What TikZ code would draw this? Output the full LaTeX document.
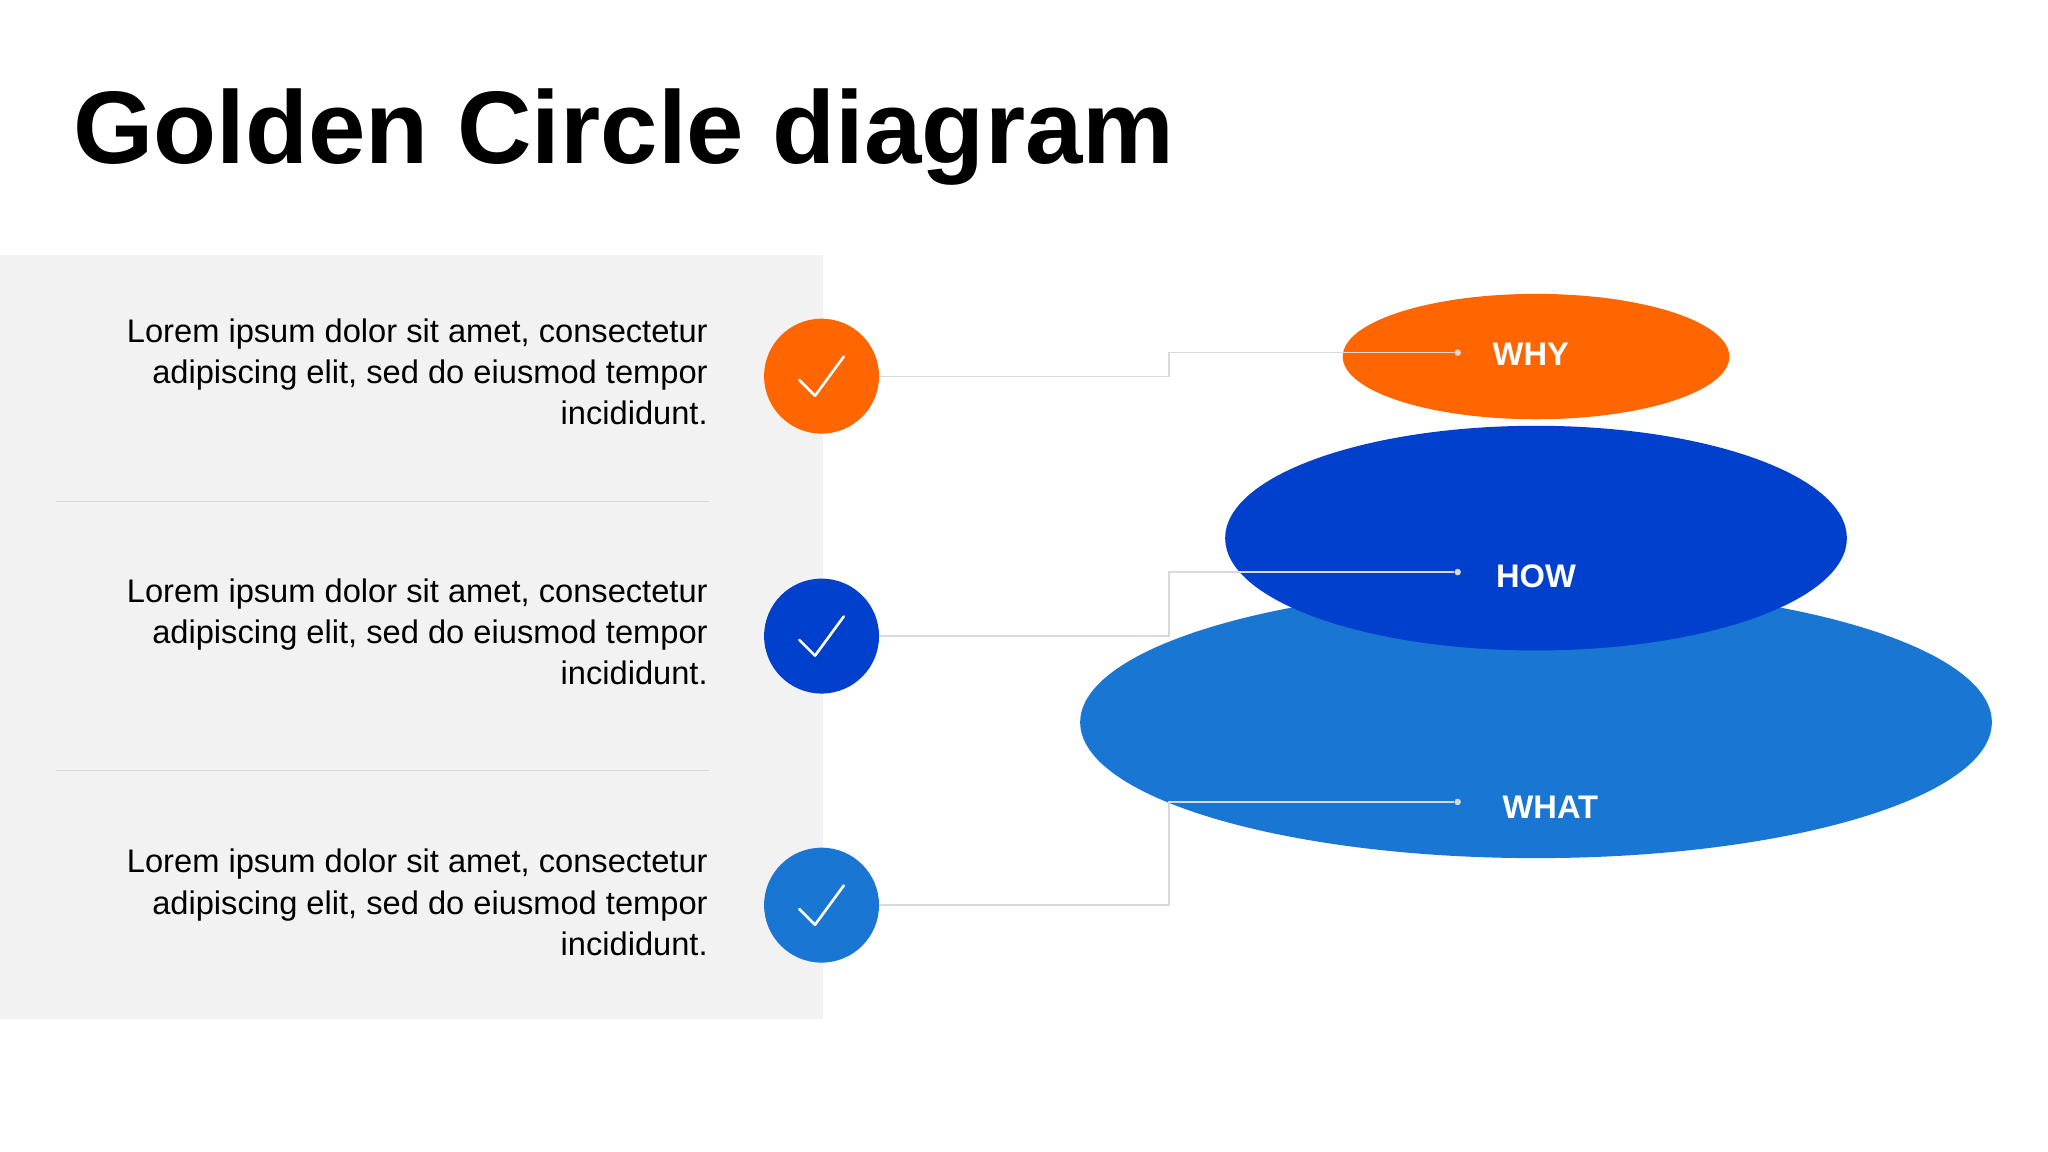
\documentclass[tikz,border=0pt]{standalone}
\usepackage{fontspec}
\setmainfont{Liberation Sans}
\definecolor{cOr}{HTML}{FF6600}
\definecolor{cBl}{HTML}{0040CC}
\definecolor{cLb}{HTML}{1976D2}
\definecolor{panel}{HTML}{F2F2F2}
\definecolor{ln}{HTML}{D9D9D9}
\begin{document}
\begin{tikzpicture}[x=1pt,y=-1pt,
  body/.style={anchor=north east,align=right,font=\fontsize{25}{31.5}\selectfont,inner sep=0pt},
  chk/.style={circle,minimum size=88pt,inner sep=0pt},
  conn/.style={draw=ln,line width=1pt},
  lbl/.style={text=white,font=\fontsize{25}{30}\selectfont\bfseries},
  dot/.style={circle,fill=ln,inner sep=0pt,minimum size=5pt}]
\useasboundingbox (0,0) rectangle (1568,882);
\fill[white] (0,0) rectangle (1568,882);
\node[anchor=base west,inner sep=0pt,font=\fontsize{79}{90}\selectfont\bfseries] (title) at (56,125) {Golden Circle diagram};
\fill[panel] (0,195) rectangle (630,780);
\draw[ln] (43,384) -- (543,384);
\draw[ln] (43,590) -- (543,590);
\node[body] (t1) at (542,244) {Lorem ipsum dolor sit amet, consectetur\\adipiscing elit, sed do eiusmod tempor\\incididunt.};
\node[body] (t2) at (542,443) {Lorem ipsum dolor sit amet, consectetur\\adipiscing elit, sed do eiusmod tempor\\incididunt.};
\node[body] (t3) at (542,650) {Lorem ipsum dolor sit amet, consectetur\\adipiscing elit, sed do eiusmod tempor\\incididunt.};
% ellipses
\fill[cLb] (1176,553) ellipse[x radius=349,y radius=104];
\fill[cBl] (1176,412) ellipse[x radius=238,y radius=86];
\fill[cOr] (1176,273) ellipse[x radius=148,y radius=48];
\node[chk,fill=cOr] (c1) at (629,288) {};
\node[chk,fill=cBl] (c2) at (629,487) {};
\node[chk,fill=cLb] (c3) at (629,693) {};
\foreach \c in {c1,c2,c3}{
  \draw[white,line width=2pt,line cap=round,line join=round]
    ([shift={(-17,3)}]\c.center) -- ([shift={(-5,15)}]\c.center) -- ([shift={(17,-15)}]\c.center);
}
\node[dot] (d1) at (1116,270) {};
\node[dot] (d2) at (1116,438) {};
\node[dot] (d3) at (1116,614) {};
\draw[conn] (c1.east) -- (895,288) -- (895,270) -- (d1);
\draw[conn] (c2.east) -- (895,487) -- (895,438) -- (d2);
\draw[conn] (c3.east) -- (895,693) -- (895,614) -- (d3);
\node[lbl] (why) at (1172,271) {WHY};
\node[lbl] (how) at (1176,441) {HOW};
\node[lbl] (what) at (1187,618) {WHAT};
\end{tikzpicture}
\end{document}
